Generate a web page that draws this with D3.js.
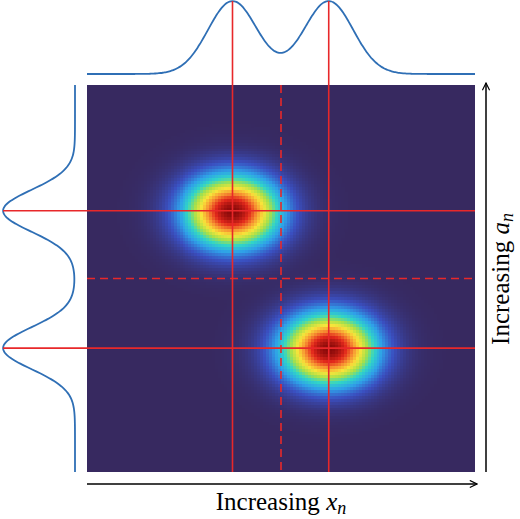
<!DOCTYPE html>
<html><head><meta charset="utf-8">
<script src="https://cdn.jsdelivr.net/npm/d3@7"></script>
<style>body{margin:0;background:#fff}</style>
</head><body>
<svg id="chart" width="520" height="519"></svg>
<script>
// peak positions (in data units 0..1) and widths
var peaksX = [0.375, 0.623];
var peaksY = [0.675, 0.32];   // y measured from bottom
var sigX = 0.074, sigY = 0.056, sigTop = 0.063, sigLeft = 0.054;
var splitX = 0.5, splitY = 0.5;
var colorStops = ["#372960", "#3a4fc0", "#2fa0e8", "#30d5c8", "#a6e04a", "#f8e43a", "#f79232", "#e2281c", "#8a0a0a"];

var svg = d3.select("#chart");
var x = d3.scaleLinear().domain([0, 1]).range([87, 475]);
var y = d3.scaleLinear().domain([0, 1]).range([472, 85]);
var col = d3.scaleLinear().domain(d3.range(colorStops.length).map(function(i){ return i / (colorStops.length - 1); }))
  .range(colorStops).clamp(true);

function g(v, m, s) { return Math.exp(-(v - m) * (v - m) / (2 * s * s)); }

// heatmap background + cells
svg.append("rect").attr("x", x(0)).attr("y", y(1)).attr("width", x(1) - x(0)).attr("height", y(0) - y(1))
  .attr("fill", colorStops[0]);
var n = 130, cells = [];
for (var i = 0; i < n; i++) for (var j = 0; j < n; j++) {
  var cx = (i + 0.5) / n, cy = (j + 0.5) / n, v = 0;
  for (var k = 0; k < 2; k++) v += g(cx, peaksX[k], sigX) * g(cy, peaksY[k], sigY);
  if (v > 0.0003) cells.push({i: i, j: j, v: v});
}
svg.append("g").attr("shape-rendering", "crispEdges").selectAll("rect").data(cells).join("rect")
  .attr("x", function(d){ return x(d.i / n); })
  .attr("y", function(d){ return y((d.j + 1) / n); })
  .attr("width", x(1 / n) - x(0) + 1)
  .attr("height", y(0) - y(1 / n) + 1)
  .attr("fill", function(d){ return col(Math.pow(d.v, 0.8)); });

// top marginal
var ts = d3.range(0, 1.0001, 0.005);
var yTop = d3.scaleLinear().domain([0, 1]).range([74, 1]);
svg.append("path").datum(ts)
  .attr("d", d3.line().x(function(t){ return x(t); })
    .y(function(t){ return yTop(g(t, peaksX[0], sigTop) + g(t, peaksX[1], sigTop)); }).curve(d3.curveBasis))
  .attr("fill", "none").attr("stroke", "#2f6fb5").attr("stroke-width", 1.8);

// left marginal
var xLeft = d3.scaleLinear().domain([0, 1]).range([75, 3]);
svg.append("path").datum(ts)
  .attr("d", d3.line().y(function(t){ return y(t); })
    .x(function(t){ return xLeft(g(t, peaksY[0], sigLeft) + g(t, peaksY[1], sigLeft)); }).curve(d3.curveBasis))
  .attr("fill", "none").attr("stroke", "#2f6fb5").attr("stroke-width", 1.8);

// red guide lines
var red = "#e8282a";
svg.selectAll(".vl").data(peaksX).join("line")
  .attr("x1", function(d){ return x(d); }).attr("x2", function(d){ return x(d); })
  .attr("y1", yTop(1)).attr("y2", y(0))
  .attr("stroke", red).attr("stroke-width", 1.6);
svg.selectAll(".hl").data(peaksY).join("line")
  .attr("y1", function(d){ return y(d); }).attr("y2", function(d){ return y(d); })
  .attr("x1", xLeft(1)).attr("x2", x(1))
  .attr("stroke", red).attr("stroke-width", 1.6);
svg.append("line").attr("x1", x(splitX)).attr("x2", x(splitX)).attr("y1", y(1)).attr("y2", y(0))
  .attr("stroke", red).attr("stroke-width", 1.6).attr("stroke-dasharray", "8,5");
svg.append("line").attr("y1", y(splitY)).attr("y2", y(splitY)).attr("x1", x(0)).attr("x2", x(1))
  .attr("stroke", red).attr("stroke-width", 1.6).attr("stroke-dasharray", "8,5");

// arrows
svg.append("defs").append("marker").attr("id", "arr").attr("viewBox", "0 0 10 10")
  .attr("refX", 9).attr("refY", 5).attr("markerWidth", 9).attr("markerHeight", 9)
  .attr("orient", "auto").attr("markerUnits", "userSpaceOnUse")
  .append("path").attr("d", "M1,1 L9,5 L1,9").attr("fill", "none").attr("stroke", "#000").attr("stroke-width", 1.3);
svg.append("line").attr("x1", x(0)).attr("x2", x(1) + 2).attr("y1", 484).attr("y2", 484)
  .attr("stroke", "#000").attr("stroke-width", 1.5).attr("marker-end", "url(#arr)");
svg.append("line").attr("x1", 486).attr("x2", 486).attr("y1", y(0)).attr("y2", y(1) - 2)
  .attr("stroke", "#000").attr("stroke-width", 1.5).attr("marker-end", "url(#arr)");

// labels
var xl = svg.append("text").attr("x", 281).attr("y", 510).attr("text-anchor", "middle")
  .attr("font-family", "Liberation Serif, serif").attr("font-size", 25);
xl.append("tspan").text("Increasing ");
xl.append("tspan").attr("font-style", "italic").text("x");
xl.append("tspan").attr("font-style", "italic").attr("font-size", 18).attr("dy", 4).text("n");
var yl = svg.append("text").attr("transform", "translate(509,279) rotate(-90)").attr("text-anchor", "middle")
  .attr("font-family", "Liberation Serif, serif").attr("font-size", 25);
yl.append("tspan").text("Increasing ");
yl.append("tspan").attr("font-style", "italic").text("a");
yl.append("tspan").attr("font-style", "italic").attr("font-size", 18).attr("dy", 4).text("n");
</script>
</body></html>
